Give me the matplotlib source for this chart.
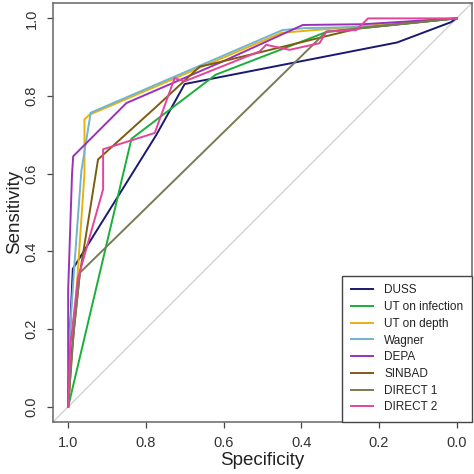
import matplotlib
matplotlib.use("Agg")
import matplotlib.pyplot as plt

plt.rcParams['font.family'] = ['Liberation Sans', 'DejaVu Sans']

# ROC curves: specificity (x, reversed) / sensitivity (y)
duss_spec = [1.0, 0.995, 0.988, 0.773, 0.70, 0.153, 0.015, 0.0]
duss_sens = [0.0, 0.20, 0.355, 0.70, 0.831, 0.938, 0.99, 1.0]

infection_spec = [1.0, 0.837, 0.62, 0.335, 0.0]
infection_sens = [0.0, 0.69, 0.855, 0.965, 1.0]

depth_spec = [1.0, 0.993, 0.975, 0.958, 0.958, 0.945, 0.45, 0.0]
depth_sens = [0.0, 0.10, 0.35, 0.60, 0.74, 0.752, 0.963, 1.0]

wagner_spec = [1.0, 0.995, 0.985, 0.966, 0.942, 0.448, 0.39, 0.23, 0.0]
wagner_sens = [0.0, 0.20, 0.35, 0.607, 0.757, 0.97, 0.975, 0.978, 1.0]

depa_spec = [1.0, 1.0, 0.99, 0.987, 0.85, 0.60, 0.396, 0.24, 0.0]
depa_sens = [0.0, 0.30, 0.60, 0.645, 0.782, 0.89, 0.983, 0.985, 1.0]

sinbad_spec = [1.0, 0.99, 0.97, 0.923, 0.777, 0.661, 0.62, 0.25, 0.0]
sinbad_sens = [0.0, 0.15, 0.342, 0.637, 0.769, 0.876, 0.885, 0.975, 1.0]

direct1_spec = [1.0, 0.985, 0.97, 0.335, 0.0]
direct1_sens = [0.0, 0.20, 0.345, 0.966, 1.0]

direct2_spec = [1.0, 0.995, 0.975, 0.91, 0.91, 0.777, 0.726, 0.70, 0.507,
                0.49, 0.43, 0.353, 0.335, 0.258, 0.228, 0.0]
direct2_sens = [0.0, 0.15, 0.33, 0.56, 0.663, 0.705, 0.846, 0.838, 0.915,
                0.932, 0.919, 0.936, 0.966, 0.97, 1.0, 1.0]

labels = ["DUSS", "UT on infection", "UT on depth", "Wagner", "DEPA",
          "SINBAD", "DIRECT 1", "DIRECT 2"]
colors = ["#191970", "#1aaf3a", "#e8b10e", "#72b3cf", "#9932b8",
          "#7d5c12", "#7a7a55", "#e4449a"]
curves = [(duss_spec, duss_sens), (infection_spec, infection_sens),
          (depth_spec, depth_sens), (wagner_spec, wagner_sens),
          (depa_spec, depa_sens), (sinbad_spec, sinbad_sens),
          (direct1_spec, direct1_sens), (direct2_spec, direct2_sens)]

fig = plt.figure(figsize=(4.74, 4.74), dpi=100)
ax = fig.add_axes([0.111, 0.109, 0.885, 0.885])

# chance line
ax.axline((1, 0), (0, 1), color="#d3d3d3", lw=1, zorder=1)

for (sp, se), lab, col in zip(curves, labels, colors):
    ax.plot(sp, se, color=col, lw=1.4, label=lab, zorder=2)

ax.set_xlim(1.04, -0.04)
ax.set_ylim(-0.04, 1.04)
ticks = [0.0, 0.2, 0.4, 0.6, 0.8, 1.0]
ax.set_xticks(ticks)
ax.set_yticks(ticks)
ax.set_xticklabels(["%.1f" % t for t in ticks])
ax.set_yticklabels(["%.1f" % t for t in ticks], rotation=90, va="center")
ax.tick_params(direction="out", length=4.5, width=0.9, colors="#444444",
               labelsize=10.5, pad=5.5)
ax.tick_params(axis="x", labelcolor="#333333")
ax.tick_params(axis="y", labelcolor="#333333")
for s in ax.spines.values():
    s.set_color("#666666")
    s.set_linewidth(1.1)

fig.text(262 / 474, 1 - 465 / 474, "Specificity", fontsize=13.5,
         ha="center", va="baseline", color="#222222")
fig.text(15 / 474, 1 - 212 / 474, "Sensitivity", fontsize=13.5,
         ha="center", va="center", rotation=90, color="#222222")

leg = ax.legend(loc="lower right", borderaxespad=0, fancybox=False,
                fontsize=8.5, handlelength=1.9, handletextpad=0.9,
                labelspacing=0.4, borderpad=0.75, framealpha=1)
leg.get_frame().set_edgecolor("#444444")
leg.get_frame().set_linewidth(1.0)
for t in leg.get_texts():
    t.set_color("#222222")

fig.savefig("out.png", dpi=100)
